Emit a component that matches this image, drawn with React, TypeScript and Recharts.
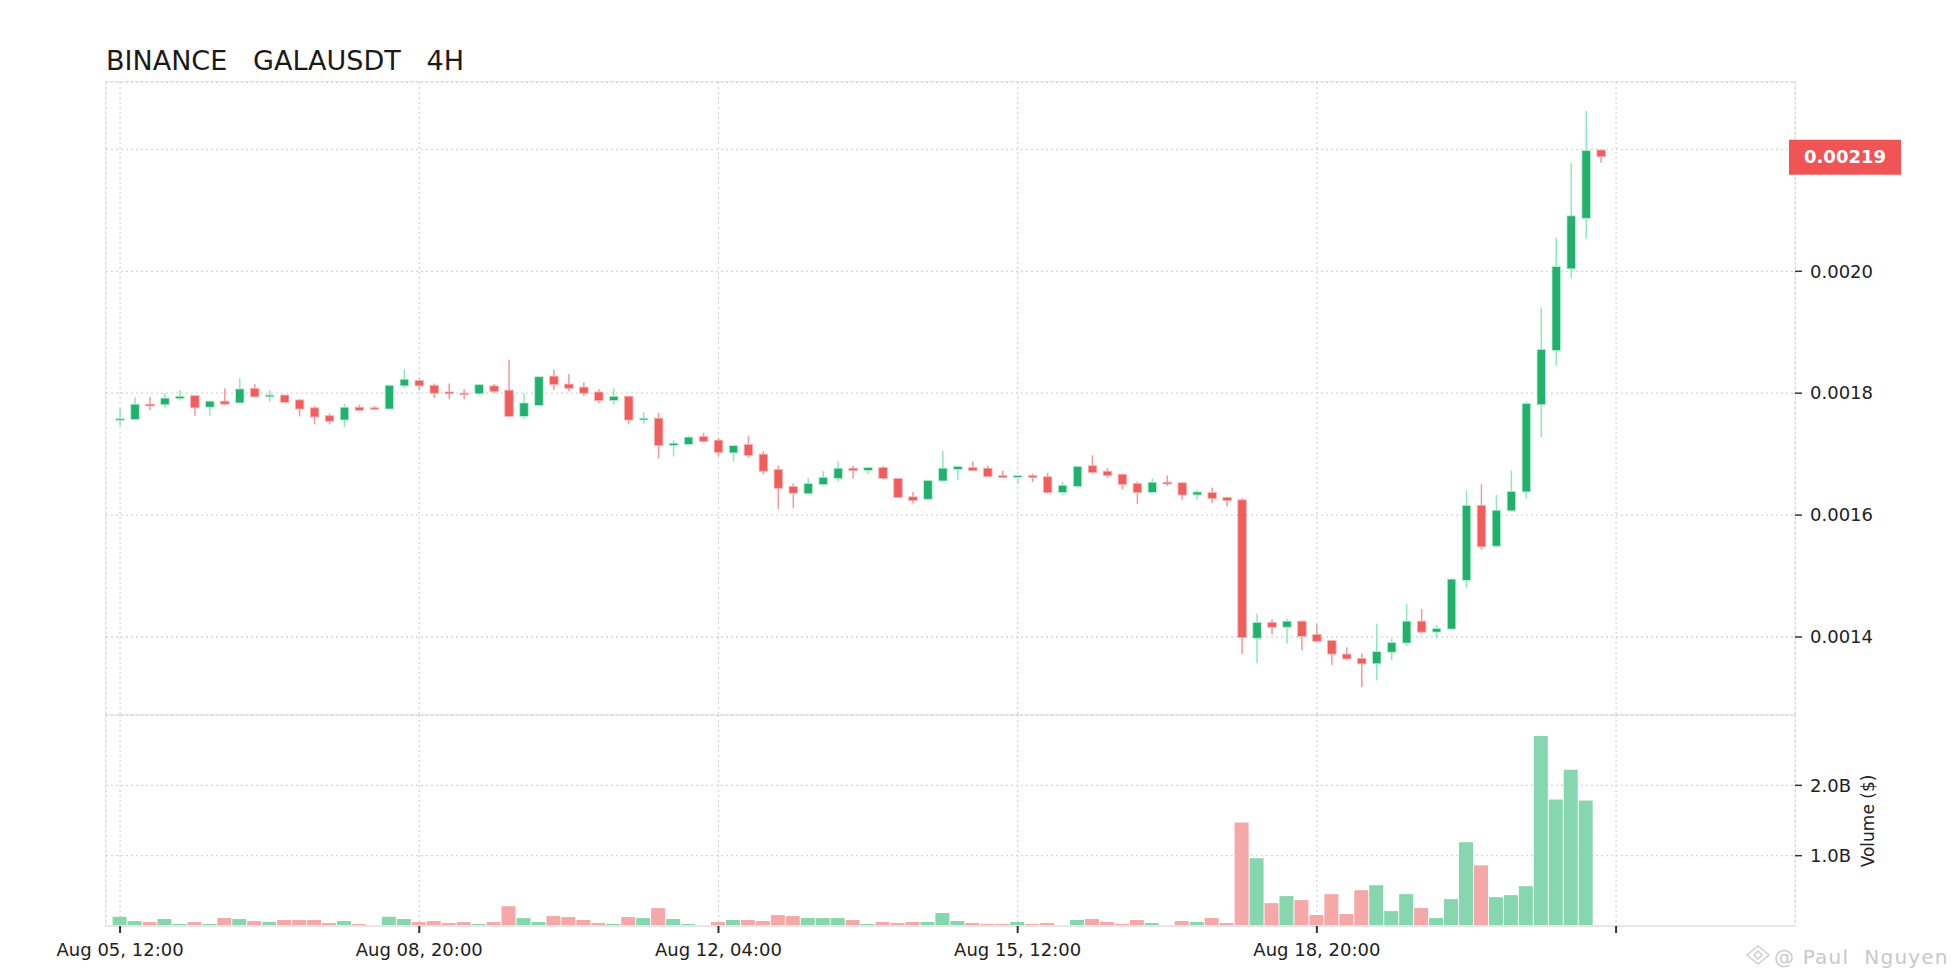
import React from "react";
import {
  ComposedChart,
  Bar,
  Cell,
  XAxis,
  YAxis,
  CartesianGrid,
  ReferenceLine,
} from "recharts";

// 4H candles, Aug 05 12:00 onward (index 0..99)
const opens = [
  0.001756, 0.001757, 0.001782, 0.001781, 0.001791, 0.001796, 0.001777, 0.001787, 0.001784, 0.001808,
  0.001794, 0.001797, 0.001789, 0.001776, 0.001763, 0.001756, 0.001777, 0.001776, 0.001774, 0.001812,
  0.001821, 0.001813, 0.001802, 0.0018, 0.001799, 0.001812, 0.001805, 0.001762, 0.00178, 0.001828,
  0.001815, 0.00181, 0.001802, 0.001788, 0.001795, 0.001756, 0.001759, 0.001714, 0.001716, 0.001729,
  0.001723, 0.001702, 0.001716, 0.0017, 0.001675, 0.001647, 0.001635, 0.00165, 0.00166, 0.001677,
  0.001673, 0.001678, 0.00166, 0.00163, 0.001626, 0.001656, 0.001675, 0.001678, 0.001677, 0.001665,
  0.001662, 0.001665, 0.001663, 0.001637, 0.001647, 0.001681, 0.001672, 0.001667, 0.001652, 0.001637,
  0.001654, 0.001653, 0.001633, 0.001637, 0.001629, 0.001625, 0.001398, 0.001424, 0.001416, 0.001426,
  0.001404, 0.001394, 0.001372, 0.001365, 0.001356, 0.001375, 0.00139, 0.001426, 0.001408, 0.001413,
  0.001493, 0.001616, 0.001549, 0.001607, 0.001638, 0.001781, 0.00187, 0.002004, 0.002087, 0.002199,
];
const highs = [
  0.001775, 0.001793, 0.001794, 0.0018, 0.001805, 0.001797, 0.001788, 0.001808, 0.001824, 0.001815,
  0.001805, 0.001797, 0.00179, 0.001779, 0.001767, 0.001782, 0.001781, 0.001779, 0.001813, 0.001839,
  0.001824, 0.001816, 0.001816, 0.001807, 0.001815, 0.001815, 0.001855, 0.0018, 0.001827, 0.001839,
  0.001831, 0.001818, 0.001807, 0.001808, 0.001795, 0.001769, 0.001768, 0.001723, 0.00173, 0.001735,
  0.001726, 0.001714, 0.00173, 0.001705, 0.001681, 0.001652, 0.001661, 0.001672, 0.001688, 0.001681,
  0.001678, 0.001681, 0.001661, 0.001638, 0.001658, 0.001705, 0.00168, 0.001688, 0.001681, 0.001673,
  0.001665, 0.001668, 0.001669, 0.001655, 0.001681, 0.001698, 0.001677, 0.001668, 0.001655, 0.00166,
  0.001665, 0.001654, 0.001642, 0.001645, 0.00163, 0.001628, 0.001438, 0.001429, 0.00143, 0.001427,
  0.001421, 0.001395, 0.001383, 0.001373, 0.001422, 0.001397, 0.001454, 0.001446, 0.00142, 0.001496,
  0.00164, 0.001651, 0.001633, 0.001673, 0.001786, 0.00194, 0.002055, 0.002178, 0.002263, 0.0022,
];
const lows = [
  0.001746, 0.001757, 0.001772, 0.001776, 0.001788, 0.001763, 0.001763, 0.001781, 0.001784, 0.001794,
  0.001786, 0.001784, 0.001762, 0.001749, 0.001749, 0.001744, 0.001771, 0.001772, 0.001774, 0.001808,
  0.001805, 0.001792, 0.00179, 0.00179, 0.001797, 0.0018, 0.00176, 0.001758, 0.00178, 0.001805,
  0.001803, 0.001796, 0.001784, 0.001781, 0.001749, 0.00175, 0.001693, 0.001696, 0.001716, 0.001719,
  0.001696, 0.001688, 0.001694, 0.001667, 0.00161, 0.001612, 0.001634, 0.001648, 0.001655, 0.00166,
  0.001667, 0.001659, 0.001629, 0.001619, 0.001625, 0.001656, 0.001657, 0.001673, 0.001663, 0.001662,
  0.001651, 0.001654, 0.001635, 0.001633, 0.001645, 0.001667, 0.001661, 0.001642, 0.001618, 0.001636,
  0.001648, 0.001625, 0.001625, 0.00162, 0.001614, 0.001372, 0.001357, 0.001404, 0.001389, 0.001378,
  0.001391, 0.001354, 0.001362, 0.001318, 0.001329, 0.001362, 0.001385, 0.001406, 0.001398, 0.001412,
  0.00148, 0.001543, 0.001548, 0.001606, 0.001627, 0.001728, 0.001845, 0.001989, 0.002054, 0.002178,
];
const closes = [
  0.001758, 0.001782, 0.001779, 0.001792, 0.001795, 0.001776, 0.001787, 0.001782, 0.001807, 0.001794,
  0.001797, 0.001785, 0.001774, 0.001761, 0.001754, 0.001777, 0.001772, 0.001774, 0.001813, 0.001823,
  0.001812, 0.0018, 0.001799, 0.001799, 0.001814, 0.001803, 0.001762, 0.001784, 0.001827, 0.001814,
  0.001808, 0.0018, 0.001788, 0.001795, 0.001756, 0.001759, 0.001714, 0.001718, 0.001728, 0.001721,
  0.001703, 0.001714, 0.001698, 0.001672, 0.001644, 0.001636, 0.001652, 0.001662, 0.001677, 0.001673,
  0.001678, 0.00166, 0.001629, 0.001624, 0.001657, 0.001677, 0.00168, 0.001673, 0.001663, 0.001662,
  0.001665, 0.001662, 0.001637, 0.001649, 0.00168, 0.00167, 0.001665, 0.00165, 0.001637, 0.001654,
  0.001651, 0.001633, 0.001638, 0.001627, 0.001624, 0.001399, 0.001424, 0.001416, 0.001426, 0.001401,
  0.001393, 0.001372, 0.001364, 0.001356, 0.001376, 0.001391, 0.001426, 0.001408, 0.001414, 0.001495,
  0.001616, 0.001548, 0.001608, 0.001639, 0.001783, 0.001872, 0.002008, 0.002091, 0.002198, 0.002188,
];
// volume in billions of $
const volumes = [
  0.131, 0.07, 0.056, 0.099, 0.028, 0.056, 0.028, 0.113, 0.099, 0.07,
  0.056, 0.085, 0.085, 0.085, 0.042, 0.07, 0.028, 0.006, 0.131, 0.099,
  0.056, 0.07, 0.042, 0.056, 0.028, 0.056, 0.282, 0.113, 0.056, 0.141,
  0.127, 0.085, 0.042, 0.028, 0.127, 0.113, 0.254, 0.099, 0.028, 0.014,
  0.056, 0.085, 0.085, 0.07, 0.155, 0.141, 0.113, 0.113, 0.113, 0.085,
  0.028, 0.057, 0.042, 0.057, 0.057, 0.184, 0.071, 0.042, 0.028, 0.028,
  0.057, 0.028, 0.042, 0.014, 0.085, 0.099, 0.057, 0.028, 0.085, 0.042,
  0.014, 0.071, 0.057, 0.113, 0.042, 1.472, 0.962, 0.325, 0.425, 0.368,
  0.156, 0.453, 0.17, 0.509, 0.58, 0.212, 0.453, 0.255, 0.113, 0.382,
  1.189, 0.863, 0.41, 0.439, 0.566, 2.703, 1.797, 2.222, 1.783, 0,
];

const xTicks = [0, 20, 40, 60, 80, 100];
const xTickLabels = ["Aug 05, 12:00", "Aug 08, 20:00", "Aug 12, 04:00", "Aug 15, 12:00", "Aug 18, 20:00", ""];
const priceTicks = [0.0014, 0.0016, 0.0018, 0.002, 0.0022];
const volumeTicks = [1, 2];

const UP = "#22b06d";
const DOWN = "#f05d5d";
const WICK_UP = "#8aeabd";
const WICK_DOWN = "#f49898";
const VOL_UP = "#86d6b0";
const VOL_DOWN = "#f5a8a8";
const GRID = "#d6d6d6";
const FONT = "DejaVu Sans";

const rows = opens.map((o, i) => ({
  i,
  open: o,
  high: highs[i],
  low: lows[i],
  close: closes[i],
  volume: volumes[i],
  up: closes[i] >= o,
}));

const lastClose = closes[closes.length - 1];

function Candle(props: any) {
  const { x, y, width, height, payload } = props;
  if (!payload) return null;
  const { open, close, high, low, up } = payload;
  const top = Math.min(y, y + height);
  const h = Math.abs(height);
  const k = h / (high - low);
  const cx = x + width / 2;
  const yOf = (v: number) => top + (high - v) * k;
  const bTop = yOf(Math.max(open, close));
  const bBot = yOf(Math.min(open, close));
  const bw = 8.5;
  return (
    <g>
      <line x1={cx} x2={cx} y1={top} y2={top + h} stroke={up ? WICK_UP : WICK_DOWN} strokeWidth={1.5} />
      <rect
        x={cx - bw / 2}
        y={bTop}
        width={bw}
        height={Math.max(bBot - bTop, 1.5)}
        fill={up ? UP : DOWN}
        stroke={up ? "#b6f0d3" : "#f8b4b4"}
        strokeWidth={0.8}
      />
    </g>
  );
}

function PriceTick(props: any) {
  const { x, y, payload } = props;
  if (Math.abs(payload.value - 0.0022) < 1e-9) return null;
  return (
    <g>
      <line x1={x - 15} x2={x - 8} y1={y} y2={y} stroke="#333" strokeWidth={1.5} />
      <text x={x} y={y} dy="0.35em" fontSize={18} fontFamily={FONT} fill="#222">
        {payload.value.toFixed(4)}
      </text>
    </g>
  );
}

function LastPriceLabel(props: any) {
  const vb = props.viewBox;
  if (!vb) return null;
  const rx = vb.x + vb.width - 6;
  return (
    <g>
      <rect x={rx} y={vb.y - 17} width={112} height={35} fill="#f05454" />
      <text
        x={rx + 56}
        y={vb.y}
        dy="0.35em"
        textAnchor="middle"
        fontSize={18}
        fontWeight="bold"
        fontFamily={FONT}
        fill="#fff"
      >
        {lastClose.toFixed(5)}
      </text>
    </g>
  );
}

const tickStyle = { fontSize: 18, fontFamily: FONT, fill: "#222" };

export default function App() {
  return (
    <div style={{ position: "absolute", left: 0, top: 0, width: 1960, height: 980, background: "#fff" }}>
      {/* panel frames, behind the charts */}
      <div
        style={{
          position: "absolute",
          left: 105,
          top: 81,
          width: 1691,
          height: 635,
          border: "1.5px solid #ececec",
          boxSizing: "border-box",
        }}
      />
      <div
        style={{
          position: "absolute",
          left: 105,
          top: 714,
          width: 1691,
          height: 213,
          borderTop: "1.5px solid #ececec",
          borderLeft: "1.5px solid #ececec",
          borderRight: "1.5px solid #ececec",
          boxSizing: "border-box",
        }}
      />
      <div style={{ position: "absolute", left: 0, top: 0 }}>
        <ComposedChart width={1960} height={715} data={rows} margin={{ top: 82, right: 0, bottom: 0, left: 106 }}>
          <CartesianGrid stroke={GRID} strokeDasharray="2 3" strokeWidth={1.3} />
          <XAxis
            type="number"
            dataKey="i"
            domain={[-0.94, 111.96]}
            ticks={xTicks}
            allowDataOverflow
            hide
          />
          <YAxis
            orientation="right"
            width={165}
            domain={[0.001272, 0.0023106]}
            ticks={priceTicks}
            allowDataOverflow
            axisLine={false}
            tickLine={false}
            tickSize={7}
            tickMargin={8}
            tick={<PriceTick />}
          />
          <Bar
            dataKey={(d: any) => [d.low, d.high]}
            barSize={9}
            shape={<Candle />}
            isAnimationActive={false}
          />
          <ReferenceLine y={lastClose} stroke="none" label={<LastPriceLabel />} />
        </ComposedChart>
      </div>
      <div style={{ position: "absolute", left: 0, top: 715 }}>
        <ComposedChart width={1960} height={265} data={rows} margin={{ top: 0, right: 0, bottom: 0, left: 106 }}>
          <CartesianGrid stroke={GRID} strokeDasharray="2 3" strokeWidth={1.3} />
          <XAxis
            type="number"
            dataKey="i"
            domain={[-0.94, 111.96]}
            ticks={xTicks}
            allowDataOverflow
            height={54}
            tickFormatter={(v: number) => xTickLabels[xTicks.indexOf(v)] ?? ""}
            tick={tickStyle}
            tickSize={7}
            tickMargin={10}
            axisLine={{ stroke: "#e6e6e6", strokeWidth: 2 }}
            tickLine={{ stroke: "#333", strokeWidth: 2 }}
          />
          <YAxis
            orientation="right"
            width={165}
            domain={[0, 3]}
            ticks={volumeTicks}
            allowDataOverflow
            axisLine={false}
            tickSize={7}
            tickMargin={8}
            tickLine={{ stroke: "#333", strokeWidth: 1.5 }}
            tick={tickStyle}
            tickFormatter={(v: number) => `${v.toFixed(1)}B`}
          />
          <Bar dataKey="volume" barSize={14} isAnimationActive={false}>
            {rows.map((r) => (
              <Cell key={`v-${r.i}`} fill={r.up ? VOL_UP : VOL_DOWN} />
            ))}
          </Bar>
        </ComposedChart>
      </div>
      <svg
        width={1960}
        height={980}
        style={{ position: "absolute", left: 0, top: 0, pointerEvents: "none" }}
      >
        <text x={106} y={70} fontSize={27} fontFamily={FONT} fill="#1a1a1a" xmlSpace="preserve" style={{ whiteSpace: "pre" }}>
          BINANCE   GALAUSDT   4H
        </text>
        <text
          x={1868}
          y={821}
          transform="rotate(-90 1868 821)"
          textAnchor="middle"
          dy="0.35em"
          fontSize={17}
          fontFamily={FONT}
          fill="#222"
        >
          Volume ($)
        </text>
        <g stroke="#cfcfcf" strokeWidth={1.6} fill="none">
          <path d="M1758 946 L1769 955 L1758 964 L1747 955 Z" />
          <path d="M1758 951 L1762 955 L1758 959 L1754 955 Z" />
        </g>
        <text x={1774} y={964} fontSize={20} fontFamily={FONT} fill="#c9c9c9" letterSpacing={1.2} xmlSpace="preserve" style={{ whiteSpace: "pre" }}>
          @ Paul  Nguyen
        </text>
      </svg>
    </div>
  );
}
